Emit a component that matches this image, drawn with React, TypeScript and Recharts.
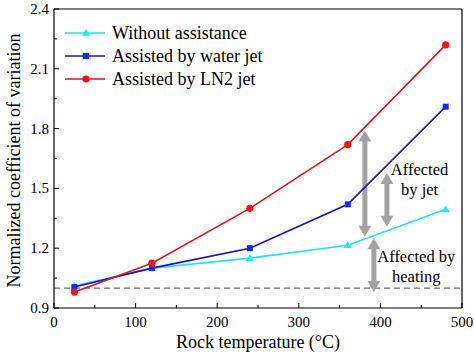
import React from "react"
import {
  LineChart,
  Line,
  XAxis,
  YAxis,
  ReferenceLine,
  ReferenceDot,
  Legend,
  Label,
} from "recharts"

const temperatures = [25, 120, 240, 360, 480]
const withoutAssistance = [1.01, 1.1, 1.15, 1.215, 1.395]
const waterJet = [1.005, 1.1, 1.2, 1.42, 1.91]
const ln2Jet = [0.98, 1.125, 1.4, 1.72, 2.22]

const xTicks = [0, 50, 100, 150, 200, 250, 300, 350, 400, 450, 500]
const xMajor = [0, 100, 200, 300, 400, 500]
const yTicks = [0.9, 1.05, 1.2, 1.35, 1.5, 1.65, 1.8, 1.95, 2.1, 2.25, 2.4]
const yMajor = [0.9, 1.2, 1.5, 1.8, 2.1, 2.4]

// double arrows: x position, top and bottom values
const arrows = [
  { x: 381, top: 1.79, bottom: 1.257 },
  { x: 408, top: 1.577, bottom: 1.307 },
  { x: 392, top: 1.25, bottom: 0.98 },
]
const notes = [
  { x: 448, y: 1.595, lines: ["Affected", "by jet"] },
  { x: 444, y: 1.157, lines: ["Affected by", "heating"] },
]

const series = [
  { key: "without", name: "Without assistance", line: "#22e3ef", fill: "#1ee8f2", marker: "triangle" },
  { key: "water", name: "Assisted by water jet", line: "#1414c8", fill: "#0a2cff", marker: "square" },
  { key: "ln2", name: "Assisted by LN2 jet", line: "#e5141c", fill: "#ff1010", marker: "circle" },
]

const data = temperatures.map((t, i) => ({
  t,
  without: withoutAssistance[i],
  water: waterJet[i],
  ln2: ln2Jet[i],
}))

const FONT = "'Liberation Serif', 'Times New Roman', serif"
const serif = { fontFamily: FONT }

function Marker({ kind, cx, cy, color }: { kind: string; cx: number; cy: number; color: string }) {
  if (kind === "triangle") {
    return <polygon points={`${cx},${cy - 4.2} ${cx - 4},${cy + 2.8} ${cx + 4},${cy + 2.8}`} fill={color} />
  }
  if (kind === "square") {
    return <rect x={cx - 3} y={cy - 3} width={6} height={6} fill={color} />
  }
  return <circle cx={cx} cy={cy} r={3.6} fill={color} />
}

// eslint-disable-next-line @typescript-eslint/no-explicit-any
function XTick({ x, y, payload }: any) {
  const major = xMajor.includes(payload.value)
  return (
    <g>
      <line x1={x} x2={x} y1={y} y2={y - (major ? 5 : 3)} stroke="#000" strokeWidth={1} />
      {major && (
        <text x={x} y={y + 19} textAnchor="middle" fontSize={15} style={serif} fill="#000">
          {payload.value}
        </text>
      )}
    </g>
  )
}

// eslint-disable-next-line @typescript-eslint/no-explicit-any
function YTick({ x, y, payload }: any) {
  const major = yMajor.some((m) => Math.abs(m - payload.value) < 1e-6)
  return (
    <g>
      <line x1={x} x2={x + (major ? 5 : 3)} y1={y} y2={y} stroke="#000" strokeWidth={1} />
      {major && (
        <text x={x - 5} y={y + 5} textAnchor="end" fontSize={15} style={serif} fill="#000">
          {Number(payload.value).toFixed(1)}
        </text>
      )}
    </g>
  )
}

// eslint-disable-next-line @typescript-eslint/no-explicit-any
function DoubleArrow({ x1, y1, y2 }: any) {
  const top = Math.min(y1, y2)
  const bot = Math.max(y1, y2)
  const head = 11
  const hw = 6.5
  const c = "#a3a3a3"
  return (
    <g>
      <rect x={x1 - 2.5} y={top + head - 1} width={5} height={bot - top - 2 * head + 2} fill={c} />
      <polygon points={`${x1},${top} ${x1 - hw},${top + head} ${x1 + hw},${top + head}`} fill={c} />
      <polygon points={`${x1},${bot} ${x1 - hw},${bot - head} ${x1 + hw},${bot - head}`} fill={c} />
    </g>
  )
}

function LegendBox() {
  return (
    <svg width={240} height={70} style={{ display: "block" }}>
      {series.map((s, i) => {
        const cy = 11 + i * 23
        return (
          <g key={s.key}>
            <line x1={7} x2={47} y1={cy} y2={cy} stroke={s.line} strokeWidth={1.6} />
            <Marker kind={s.marker} cx={28} cy={cy} color={s.fill} />
            <text x={54} y={cy + 6} fontSize={18} style={serif} fill="#000">
              {s.name}
            </text>
          </g>
        )
      })}
    </svg>
  )
}

export default function App() {
  return (
    <div style={{ position: "absolute", left: 0, top: 0, width: 474, height: 355, background: "#fff", fontFamily: FONT }}>
      <LineChart width={474} height={355} data={data} margin={{ top: 9, right: 12, bottom: 0, left: 0 }}>
        <XAxis
          dataKey="t"
          type="number"
          domain={[0, 500]}
          ticks={xTicks}
          interval={0}
          height={47}
          tickSize={0}
          tickMargin={0}
          tick={<XTick />}
          axisLine={{ stroke: "#000", strokeWidth: 1.2 }}
        >
          <Label
            content={({ viewBox }: any) => (
              <text
                x={viewBox.x + viewBox.width / 2}
                y={viewBox.y + 40}
                textAnchor="middle"
                fontSize={18}
                style={serif}
                fill="#000"
              >
                Rock temperature (°C)
              </text>
            )}
          />
        </XAxis>
        <YAxis
          type="number"
          domain={[0.9, 2.4]}
          ticks={yTicks}
          interval={0}
          width={54}
          tickSize={0}
          tickMargin={0}
          tick={<YTick />}
          allowDataOverflow
          axisLine={{ stroke: "#000", strokeWidth: 1.2 }}
        >
          <Label
            content={({ viewBox }: any) => {
              const cx = 14
              const cy = viewBox.y + viewBox.height / 2 + 2
              return (
                <text
                  x={cx}
                  y={cy}
                  transform={`rotate(-90 ${cx} ${cy})`}
                  textAnchor="middle"
                  dominantBaseline="central"
                  fontSize={18}
                  style={serif}
                  fill="#000"
                >
                  Normalized coefficient of variation
                </text>
              )
            }}
          />
        </YAxis>
        <ReferenceLine y={2.4} stroke="#000" strokeWidth={1.2} />
        <ReferenceLine x={500} stroke="#000" strokeWidth={1.2} />
        <ReferenceLine y={1.0} stroke="#6e6e6e" strokeWidth={1.3} strokeDasharray="6 4" />

        {arrows.map((a, i) => (
          <ReferenceLine
            key={`arrow-${i}`}
            segment={[
              { x: a.x, y: a.top },
              { x: a.x, y: a.bottom },
            ]}
            shape={(p: any) => <DoubleArrow {...p} />}
          />
        ))}

        {series.map((s) => (
          <Line
            key={s.key}
            dataKey={s.key}
            name={s.name}
            type="linear"
            stroke={s.line}
            strokeWidth={1.6}
            isAnimationActive={false}
            dot={(p: any) => <Marker key={`${s.key}-${p.index}`} kind={s.marker} cx={p.cx} cy={p.cy} color={s.fill} />}
            activeDot={false}
          />
        ))}

        {notes.map((n, i) => (
          <ReferenceDot
            key={`note-${i}`}
            x={n.x}
            y={n.y}
            shape={(p: any) => (
              <text textAnchor="middle" fontSize={16.5} style={serif} fill="#000">
                {n.lines.map((ln, j) => (
                  <tspan key={j} x={p.cx} y={p.cy + 5.5 + j * 20}>
                    {ln}
                  </tspan>
                ))}
              </text>
            )}
          />
        ))}

        <Legend
          layout="vertical"
          align="center"
          verticalAlign="middle"
          wrapperStyle={{ left: 58, top: 22, width: 240 }}
          content={() => <LegendBox />}
        />
      </LineChart>
    </div>
  )
}
